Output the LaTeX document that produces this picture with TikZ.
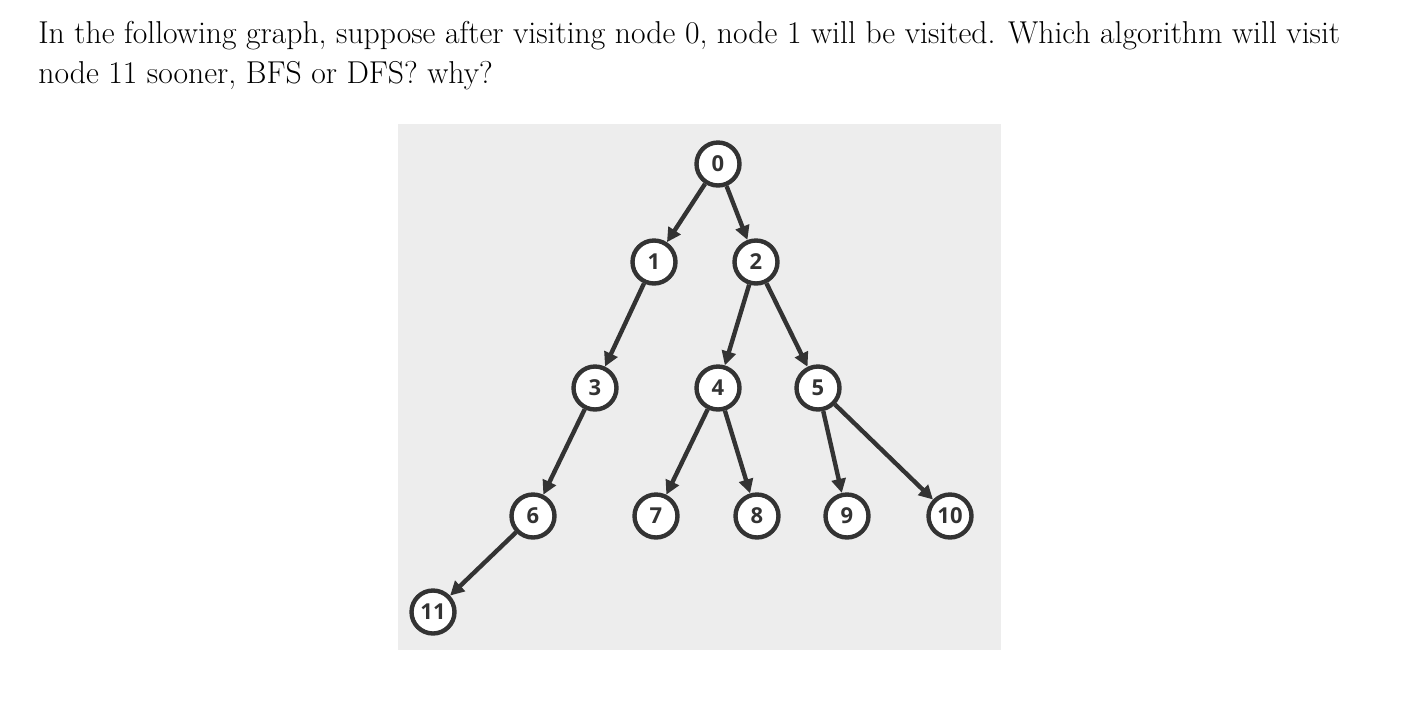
\documentclass[tikz,border=0pt]{standalone}
\usepackage{fontspec}
\newfontfamily\nodefont{Open Sans}
\usetikzlibrary{arrows.meta}
\definecolor{panel}{HTML}{EDEDED}
\definecolor{ink}{HTML}{333333}
\begin{document}
\begin{tikzpicture}[x=0.02cm,y=-0.02cm,
    vertex/.style={circle,draw=ink,line width=2.5pt,fill=white,minimum size=0.86cm,inner sep=0pt,font=\nodefont\fontsize{12.5}{12.5}\selectfont\bfseries,text=ink},
    edge/.style={draw=ink,line width=2.5pt,-{Triangle[length=8pt,width=8pt]}}]
            \useasboundingbox (0,0) rectangle (1420,704);
            \fill [panel] (398,124) rectangle (1001,650);
            \node [anchor=north west,align=left,inner sep=0pt,font=\fontsize{18}{22.7}\selectfont] (q) at (38,21)
              {In the following graph, suppose after visiting node 0, node 1 will be visited. Which algorithm will visit\\
               node 11 sooner, BFS or DFS? why?};
            \node [vertex] (n0) at (718,164) {0};
            \node [vertex] (n1) at (654,262) {1};
            \node [vertex] (n2) at (756,262) {2};
            \node [vertex] (n3) at (595,388) {3};
            \node [vertex] (n4) at (718,388) {4};
            \node [vertex] (n5) at (818,388) {5};
            \node [vertex] (n6) at (533,516) {6};
            \node [vertex] (n7) at (656,516) {7};
            \node [vertex] (n8) at (757,516) {8};
            \node [vertex] (n9) at (847,516) {9};
            \node [vertex] (n10) at (950,516) {10};
            \node [vertex] (n11) at (433,612) {11};
            \foreach \a/\b in {0/1,0/2,1/3,2/4,2/5,3/6,4/7,4/8,5/9,5/10,6/11}
              \draw [edge] (n\a) -- (n\b);
\end{tikzpicture}
\end{document}
